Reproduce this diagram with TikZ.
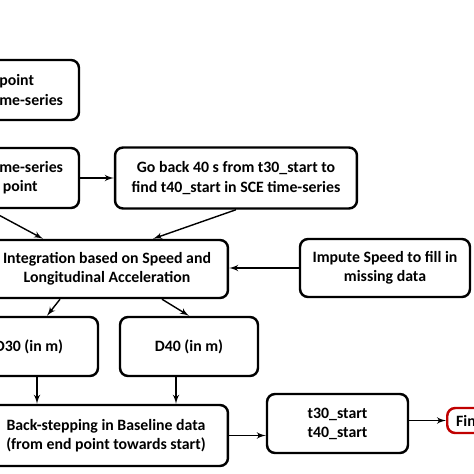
\documentclass[tikz,border=0pt]{standalone}
\usepackage{fontspec}
\setmainfont{Carlito}
\usetikzlibrary{arrows}
\usetikzlibrary{positioning}
\usetikzlibrary{calc}
\tikzstyle{block} = [draw, rounded corners=0.16cm, line width=1.4pt, align=center,
inner sep=0pt, font=\fontsize{9}{10.9}\selectfont\bfseries]
\tikzstyle{line} = [draw, -latex', line width=0.8pt]
\definecolor{finred}{RGB}{192,0,0}

\begin{document}
\begin{tikzpicture}[x=0.02cm, y=-0.02cm,
	cut/.style={align=left, inner sep=0pt, anchor=west,
		font=\fontsize{9}{10.9}\selectfont\bfseries}]
	\path [use as bounding box, clip] (0,0) rectangle (474,474);
	%% Blocks
	\node [block, minimum width=3.64cm, minimum height=1.2cm] (A) at (-12,90) {};
	\node [cut] (Atext) at (-1,90) {point\\me-series};
	\node [block, minimum width=3.64cm, minimum height=1.2cm] (B) at (-12,178) {};
	\node [cut] (Btext) at (-1,178) {me-series\\\hspace{2pt}point};
	\node [block, minimum width=4.84cm, minimum height=1.22cm] (C) at (236,178)
		{Go back 40 s from t30\_start to\\find t40\_start in SCE time-series};
	\node [block, minimum width=4.84cm, minimum height=1.16cm] (D) at (107,269)
		{Integration based on Speed and\\Longitudinal Acceleration};
	\node [block, minimum width=3.4cm, minimum height=1.16cm] (E) at (385,268)
		{Impute Speed to fill in\\missing data};
	\node [block, minimum width=2.76cm, minimum height=1.18cm] (F) at (29,346.5) {D30 (in m)};
	\node [block, minimum width=2.76cm, minimum height=1.18cm] (G) at (189,346.5) {D40 (in m)};
	\node [block, minimum width=4.88cm, minimum height=1.22cm] (H) at (106,435.5)
		{Back-stepping in Baseline data\\(from end point towards start)};
	\node [block, minimum width=2.82cm, minimum height=1.18cm] (I) at (337.5,423.5)
		{t30\_start\\t40\_start};
	\node [block, draw=finred, align=left, anchor=west, text width=1.2cm, inner xsep=0.18cm,
		minimum height=0.5cm] (J) at (446,420.5) {Fin};
	%% Flows
	\path [line] (B.east) -- (C.west);
	\path [line] (B.south) -- ($(D.north)+(-64,0)$);
	\path [line] (C.south) -- ($(D.north)+(46,0)$);
	\path [line] (E.west) -- (E.west -| D.east);
	\path [line] ($(D.south)+(-47,0)$) -- ($(F.north)+(18,0)$);
	\path [line] ($(D.south)+(55,0)$) -- (G.north);
	\path [line] ($(F.south)+(8,0)$) -- ($(H.north)+(-69,0)$);
	\path [line] ($(G.south)+(-13,0)$) -- ($(H.north)+(70,0)$);
	\path [line] (H.east) -- (H.east -| I.west);
	\path [line] (J.west -| I.east) -- (J.west);
\end{tikzpicture}
\end{document}
